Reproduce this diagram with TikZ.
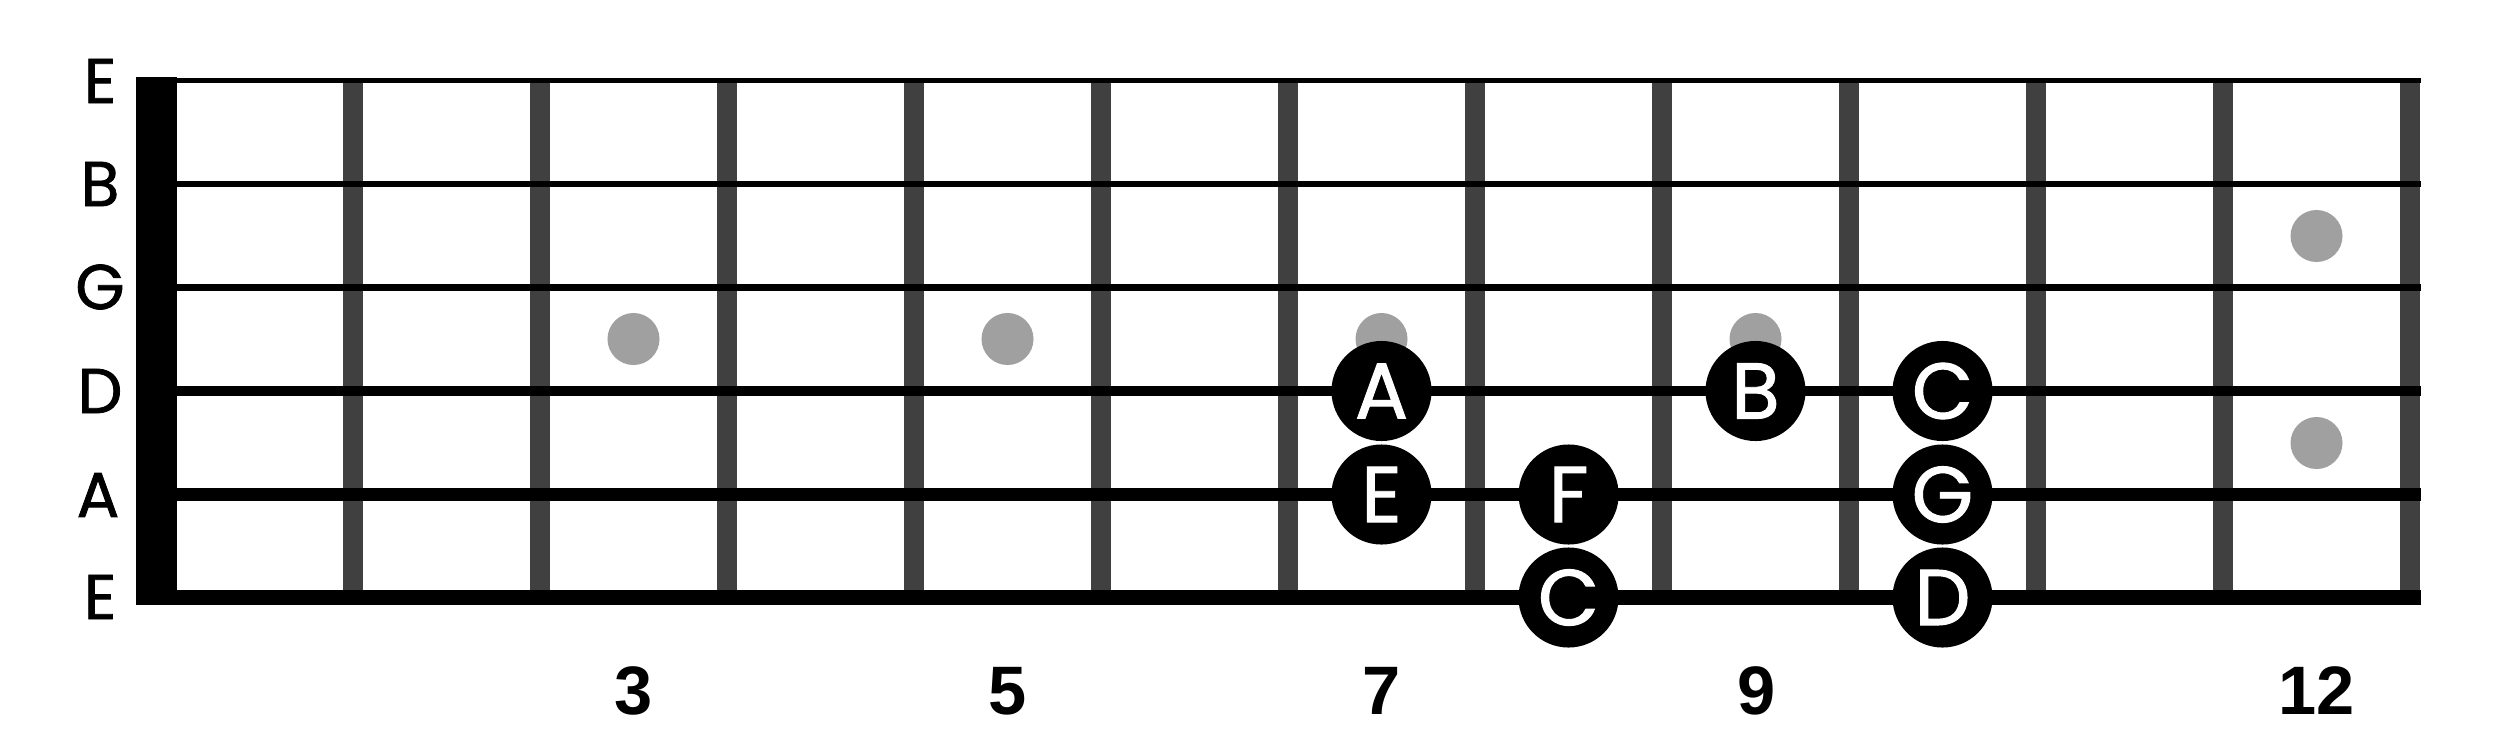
\documentclass[tikz,border=0pt]{standalone}
\usepackage{fontspec}
\newfontfamily\notefont{Poppins}[FakeBold=1.2]
\newfontfamily\numfont{Liberation Sans}
\usetikzlibrary{positioning}
\definecolor{fretgray}{HTML}{404040}
\definecolor{dotgray}{HTML}{A0A0A0}

\begin{document}
\begin{tikzpicture}[x=0.01cm,y=-0.01cm,node distance=1.87cm]
		\tikzstyle{note}=[circle,fill=black,text=white,minimum size=1cm,inner sep=0pt,font=\notefont\fontsize{22.5}{22.5}\selectfont]
		\tikzstyle{inlay}=[circle,fill=dotgray,minimum size=0.52cm,inner sep=0pt]
		\tikzstyle{strlabel}=[inner sep=0pt,font=\notefont\fontsize{18}{18}\selectfont]
		\tikzstyle{fretnum}=[inner sep=0pt,font=\numfont\bfseries\fontsize{19.5}{19.5}\selectfont]
		
		\useasboundingbox (0,0) rectangle (2500,736);
		
		% frets
		\foreach \f in {1,...,12}
			\fill[fretgray] (156+187*\f,80) rectangle (176+187*\f,598);
		
		% inlays
		\node[inlay] (dot3)  at (633.5,339)  {};
		\node[inlay] (dot5)  at (1007.5,339) {};
		\node[inlay] (dot7)  at (1381.5,339) {};
		\node[inlay] (dot9)  at (1755.5,339) {};
		\node[inlay] (dot12a) at (2316.5,236) {};
		\node[inlay] (dot12b) at (2316.5,443) {};
		
		% strings, thin to thick
		\foreach \s/\w in {0/1.7,1/1.8,2/2.0,3/2.85,4/3.55,5/4.27}
			\draw[line width=\w pt] (140,80.5+103.45*\s) -- (2421,80.5+103.45*\s);
		
		% nut
		\fill (136,77) rectangle (177,605);
		
		\node[strlabel] (lE1) at (100,81)  {E};
		\node[strlabel] (lB)  at (100,184) {B};
		\node[strlabel] (lG)  at (100,287) {G};
		\node[strlabel] (lD)  at (100,391) {D};
		\node[strlabel] (lA)  at (98,495)  {A};
		\node[strlabel] (lE6) at (100,597) {E};
		
		\node[note] (A7)  at (1381.5,391) {A};
		\node[note] (E7)  at (1381.5,494.5) {E};
		\node[note] (F8)  [right of=E7] {F};
		\node[note] (C8)  at (1568.5,597.5) {C};
		\node[note] (B9)  at (1755.5,391) {B};
		\node[note] (C10) at (1942.5,391) {C};
		\node[note] (G10) at (1942.5,494.5) {G};
		\node[note] (D10) at (1942.5,597.5) {D};
		
		\node[fretnum] (n3)  at (633.5,691)  {3};
		\node[fretnum] (n5)  [right of=n3, node distance=3.74cm] {5};
		\node[fretnum] (n7)  [right of=n5, node distance=3.74cm] {7};
		\node[fretnum] (n9)  [right of=n7, node distance=3.74cm] {9};
		\node[fretnum] (n12) at (2316.5,691) {12};
\end{tikzpicture}
\end{document}
